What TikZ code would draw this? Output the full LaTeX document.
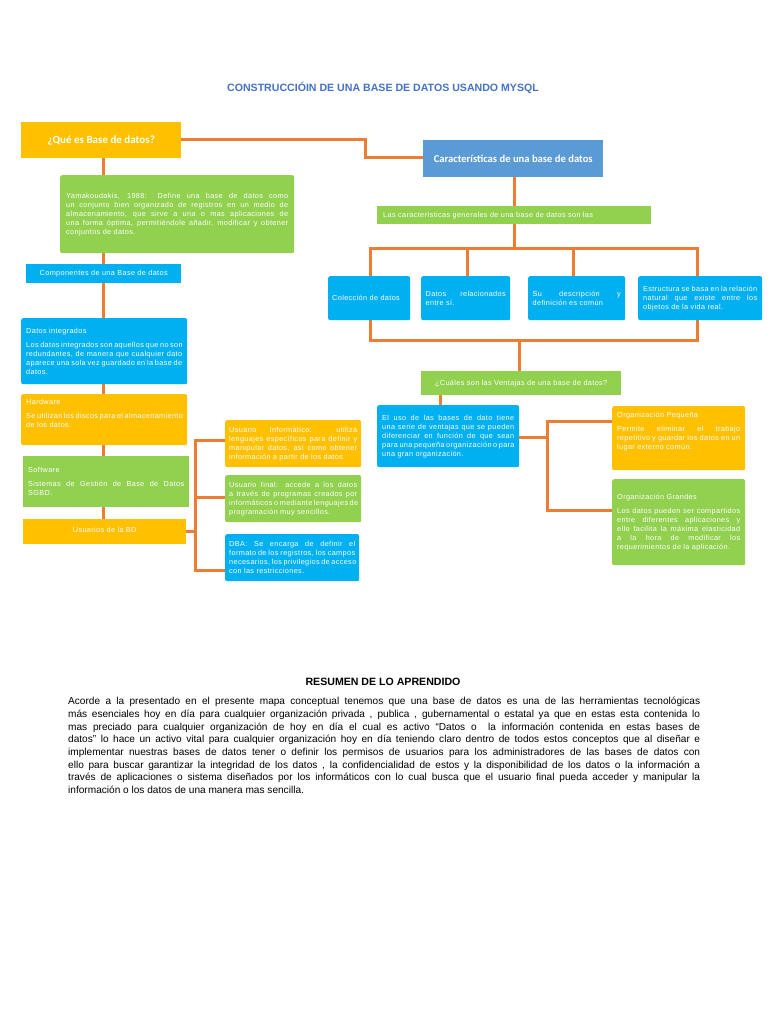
\documentclass[tikz,border=0pt]{standalone}
\usepackage{fontspec}
\setmainfont{Liberation Sans}
\newfontfamily\calib{Carlito}
\newfontfamily\boxf[LetterSpace=5]{Liberation Sans}
\newcommand\nohy{\hyphenpenalty=10000\relax\exhyphenpenalty=10000\relax}
\begin{document}
\begin{tikzpicture}[x=1pt,y=-1pt]
\definecolor{cor}{HTML}{FFC000}
\definecolor{cgr}{HTML}{92D050}
\definecolor{cbl}{HTML}{00B0F0}
\definecolor{csb}{HTML}{5B9BD5}
\definecolor{cln}{HTML}{ED7D31}
\definecolor{ctt}{HTML}{4472C4}
\tikzset{
 bx/.style={fill=#1,rounded corners=2pt,text=white,inner sep=4pt,font=\boxf\fontsize{7.3}{9}\selectfont\nohy},
 ln/.style={draw=cln,line width=3pt},
}
\useasboundingbox (0,0) rectangle (768,1024);
\fill[white] (0,0) rectangle (768,1024);
% connectors first
\draw[ln] (181,140) -- (365,140) -- (365,158) -- (423,158);
\draw[ln] (103,158) -- (103,531) -- (195,531);
\draw[ln] (225,440) -- (195,440) -- (195,570) -- (225,570);
\draw[ln] (195,497) -- (225,497);
\draw[ln] (514,177) -- (514,248);
\draw[ln] (370,276) -- (370,248) -- (697,248) -- (697,276);
\draw[ln] (467,248) -- (467,276);
\draw[ln] (573,248) -- (573,276);
\draw[ln] (370,320) -- (370,340) -- (697,340) -- (697,320);
\draw[ln] (519,340) -- (519,371);
\draw[ln] (440,395) -- (440,405);
\draw[ln] (519,437) -- (547,437);
\draw[ln] (612,421) -- (547,421) -- (547,510) -- (612,510);
% title
\node[text=ctt,font=\bfseries\fontsize{10.6}{12}\selectfont] (title) at (383,88) {CONSTRUCCIÓIN DE UNA BASE DE DATOS USANDO MYSQL};
% left column
\node[fill=cor,minimum width=160,minimum height=36,anchor=north west,text=white,font=\calib\bfseries\fontsize{11}{13}\selectfont] (q1) at (21,122) {¿Qué es Base de datos?};
\node[bx=cgr,anchor=north west,minimum width=234,minimum height=78,text width=222,align=justify] (yam) at (60,175) {Yamakoudakis, 1988: Define una base de datos como un conjunto bien organizado de registros en un medio de almacenamiento, que sirve a una o mas aplicaciones de una forma óptima, permitiéndole añadir, modificar y obtener conjuntos de datos.};
\node[bx=cbl,rounded corners=0pt,anchor=north west,minimum width=155,minimum height=19] (comp) at (26,264) {Componentes de una Base de datos};
\node[bx=cbl,anchor=north west,minimum width=166,minimum height=66,text width=156,align=justify] (di) at (21,318) {Datos integrados\\[5pt]Los datos integrados son aquellos que no son redundantes, de manera que cualquier dato aparece una sola vez guardado en la base de datos.};
\node[bx=cor,anchor=north west,minimum width=166,minimum height=51,text width=156,align=justify] (hw) at (21,394) {Hardware\\[5pt]Se utilizan los discos para el almacenamiento de los datos.\\[4pt]};
\node[bx=cgr,rounded corners=0pt,anchor=north west,minimum width=166,minimum height=51,text width=156,align=justify] (sw) at (23,456) {Software\\[5pt]Sistemas de Gestión de Base de Datos SGBD.};
\node[bx=cor,rounded corners=0pt,anchor=north west,minimum width=163,minimum height=25] (us) at (23,519) {\raisebox{4pt}{Usuarios de la BD}};
\node[bx=cor,anchor=north west,minimum width=136,minimum height=47,text width=128,align=justify] (ui) at (225,420) {Usuario Informático: utiliza lenguajes específicos para definir y manipular datos, así como obtener información a partir de los datos};
\node[bx=cgr,anchor=north west,minimum width=136,minimum height=47,text width=128,align=justify] (uf) at (225,475) {Usuario final: accede a los datos a través de programas creados por informáticos o mediante lenguajes de programación muy sencillos.};
\node[bx=cbl,anchor=north west,minimum width=134,minimum height=47,text width=126,align=justify] (dba) at (225,534) {DBA: Se encarga de definir el formato de los registros, los campos necesarios, los privilegios de acceso con las restricciones.};
% right side
\node[fill=csb,anchor=north west,minimum width=180,minimum height=37,text=white,font=\calib\bfseries\fontsize{10.6}{12}\selectfont] (car) at (423,140) {Características de una base de datos};
\node[bx=cgr,rounded corners=0pt,anchor=north west,minimum width=274,minimum height=18,text width=262,align=justify] (las) at (377,206) {Las características generales de una base de datos son las};
\node[bx=cbl,anchor=north west,minimum width=82,minimum height=44,text width=74] (b1) at (328,276) {Colección de datos};
\node[bx=cbl,anchor=north west,minimum width=89,minimum height=44,text width=80,align=justify] (b2) at (421,276) {Datos relacionados entre sí.};
\node[bx=cbl,anchor=north west,minimum width=97,minimum height=44,text width=88,align=justify] (b3) at (528,276) {Su descripción y definición es común};
\node[bx=cbl,anchor=north west,minimum width=124,minimum height=44,text width=114,align=justify] (b4) at (638,276) {Estructura se basa en la relación natural que existe entre los objetos de la vida real.};
\node[bx=cgr,rounded corners=0pt,anchor=north west,minimum width=200,minimum height=24] (cua) at (421,371) {¿Cuáles son las Ventajas de una base de datos?};
\node[bx=cbl,anchor=north west,minimum width=142,minimum height=62,text width=132,align=justify] (uso) at (377,405) {El uso de las bases de dato tiene una serie de ventajas que se pueden diferenciar en función de que sean para una pequeña organización o para una gran organización.};
\node[bx=cor,anchor=north west,minimum width=133,minimum height=64,text width=123,align=justify] (op) at (612,406) {Organización Pequeña\\[5pt]Permite eliminar el trabajo repetitivo y guardar los datos en un lugar externo común.\\[6pt]};
\node[bx=cgr,anchor=north west,minimum width=133,minimum height=86,text width=123,align=justify] (og) at (612,479) {Organización Grandes\\[5pt]Los datos pueden ser compartidos entre diferentes aplicaciones y ello facilita la máxima elasticidad a la hora de modificar los requerimientos de la aplicación.};
% summary
\node[font=\bfseries\fontsize{10.6}{12}\selectfont] (res) at (383,682) {RESUMEN DE LO APRENDIDO};
\node[anchor=north west,text width=632,inner sep=0pt,font=\fontsize{10.1}{12.7}\selectfont\nohy,align=justify] (par) at (68,697) {Acorde a la presentado en el presente mapa conceptual tenemos que una base de datos es una de las herramientas tecnológicas\linebreak más esenciales hoy en día para cualquier organización privada , publica , gubernamental o estatal ya que en estas esta contenida lo\linebreak mas preciado para cualquier organización de hoy en día el cual es activo “Datos o \ la información contenida en estas bases de\linebreak datos” lo hace un activo vital para cualquier organización hoy en día teniendo claro dentro de todos estos conceptos que al diseñar e\linebreak implementar nuestras bases de datos tener o definir los permisos de usuarios para los administradores de las bases de datos con\linebreak ello para buscar garantizar la integridad de los datos , la confidencialidad de estos y la disponibilidad de los datos o la información a\linebreak través de aplicaciones o sistema diseñados por los informáticos con lo cual busca que el usuario final pueda acceder y manipular la\linebreak información o los datos de una manera mas sencilla.};
\end{tikzpicture}
\end{document}
